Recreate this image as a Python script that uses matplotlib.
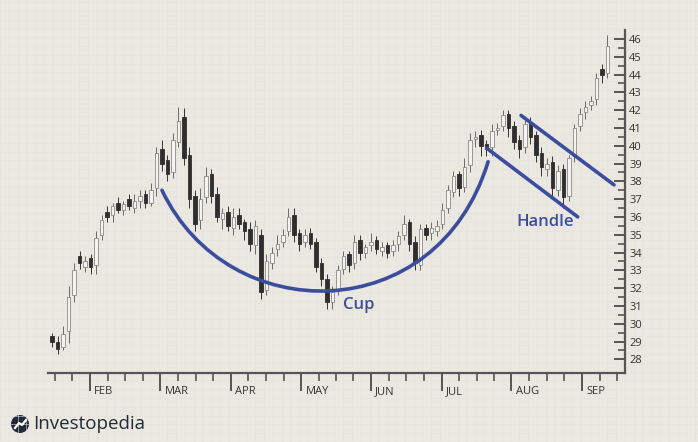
import matplotlib
matplotlib.use("Agg")
import matplotlib.pyplot as plt
import matplotlib.transforms as mtrans
from matplotlib.path import Path
from matplotlib.patches import PathPatch, Rectangle, Circle
import numpy as np

closes = [29.0,28.6,29.4,31.5,33.0,33.4,33.5,33.2,34.8,35.8,36.0,36.6,36.4,36.7,36.6,36.9,37.2,36.8,37.5,39.6,
          39.0,38.4,40.3,41.4,39.3,37.0,35.6,37.0,38.3,37.2,36.0,36.2,35.5,36.0,35.6,35.2,34.5,35.5,31.8,33.5,
          34.0,34.5,35.0,36.0,35.0,34.5,35.0,34.5,33.2,32.5,31.2,31.8,33.0,33.8,33.3,34.6,34.0,34.3,34.6,34.2,
          34.3,34.0,34.4,34.9,35.6,34.5,33.4,35.3,35.0,35.4,35.5,36.4,37.5,38.3,37.6,38.8,40.3,40.5,40.0,39.8,
          40.8,41.0,41.7,41.0,40.2,39.8,41.2,40.5,39.5,38.8,39.0,37.6,38.6,37.1,39.3,41.0,41.8,42.2,42.5,43.8,
          44.0,45.6]
opens = [29.3,29.0,28.7,29.6,31.6,33.8,33.2,33.7,33.3,35.0,36.3,36.1,36.8,36.4,37.0,36.5,36.9,37.3,36.8,37.6,
         39.8,39.2,38.5,40.2,41.6,39.5,37.2,35.8,37.1,38.4,37.3,35.9,36.3,35.4,36.1,35.7,35.3,34.4,35.0,31.9,
         33.4,34.2,34.6,35.2,36.1,35.1,34.6,35.1,34.6,33.4,32.5,31.2,31.9,33.1,33.9,33.4,34.7,34.0,34.4,34.7,
         34.1,34.4,34.1,34.5,35.0,35.7,34.6,33.3,35.4,35.1,35.2,35.6,36.5,37.4,38.4,37.7,38.9,40.4,40.6,40.1,
         39.9,40.9,41.1,41.8,41.1,40.3,39.9,41.3,40.6,39.6,38.7,39.1,37.5,38.7,37.2,39.4,41.1,41.9,42.3,42.6,
         44.3,44.1]
wick_up = [0.2,0.3,0.5,0.6,0.4,0.3,0.3,0.2,0.4,0.3,0.3,0.2,0.3,0.2,0.3,0.4,0.3,0.2,0.4,0.3,
           0.5,0.3,0.4,0.8,0.5,0.4,0.3,0.6,0.5,0.3,0.4,0.3,0.3,0.5,0.4,0.2,0.4,0.3,0.3,0.4,
           0.3,0.5,0.3,0.5,0.4,0.2,0.3,0.3,0.2,0.3,0.3,0.3,0.3,0.3,0.2,0.4,0.3,0.2,0.5,0.2,
           0.3,0.2,0.3,0.3,0.5,0.2,0.3,0.3,0.2,0.3,0.3,0.4,0.3,0.3,0.2,0.5,0.4,0.3,0.3,0.2,
           0.4,0.3,0.3,0.2,0.3,0.3,0.4,0.3,0.2,0.3,0.3,0.3,0.3,0.3,0.2,0.2,0.3,0.3,0.3,0.3,
           0.3,0.6]
wick_dn = [0.3,0.3,0.2,0.7,0.4,0.3,0.3,0.4,0.5,0.3,0.3,0.4,0.2,0.3,0.2,0.3,0.4,0.3,0.2,0.4,
           0.4,0.4,0.3,0.3,0.4,0.5,0.4,0.5,0.3,0.4,0.3,0.6,0.3,0.4,0.3,0.5,0.4,0.5,0.4,0.3,
           0.3,0.4,0.3,0.3,0.4,0.4,0.3,0.3,0.3,0.4,0.4,0.4,0.3,0.3,0.4,0.3,0.4,0.3,0.3,0.3,
           0.3,0.3,0.3,0.4,0.3,0.4,0.4,0.3,0.3,0.4,0.3,0.3,0.3,0.3,0.4,0.3,0.4,0.5,0.6,0.4,
           0.5,0.3,0.3,0.5,0.4,0.5,0.3,0.4,0.4,0.5,0.4,0.4,0.3,0.6,0.3,0.3,0.3,0.4,0.3,0.3,
           0.5,0.3]
month_labels = ["FEB","MAR","APR","MAY","JUN","JUL","AUG","SEP"]
month_pos = [6.9,19.7,32.5,45.3,58.0,70.9,83.5,96.4]
y_ticks = list(range(28,47))

BG = "#ebe8e1"
BLUE = "#3a4d9e"
AX = "#555555"

fig = plt.figure(figsize=(6.98,4.42), dpi=100, facecolor=BG)
bg = fig.add_axes([0,0,1,1], zorder=-5)
bg.set_facecolor(BG)
bg.set_xlim(0,698); bg.set_ylim(0,442)
for gx in np.arange(0,698,8.8):
    bg.axvline(gx, color="#e4e1d9", lw=0.4)
for gy in np.arange(0,442,8.8):
    bg.axhline(gy, color="#e4e1d9", lw=0.4)
bg.axis("off")

ax = fig.add_axes([48/698, 1-372.5/442, (625-48)/698, (372.5-30)/442])
ax.patch.set_alpha(0)
ax.set_xlim(-0.73, 104.2)
ax.set_ylim(27.26, 46.5)

w = 0.62
for i,(o,c,u,d) in enumerate(zip(opens,closes,wick_up,wick_dn)):
    hi = max(o,c)+u; lo = min(o,c)-d
    up = c >= o
    ax.vlines(i, lo, hi, color="#6a6a6a" if up else "#333333", lw=0.7, zorder=2)
    ax.add_patch(Rectangle((i-w/2, min(o,c)), w, max(abs(c-o),0.08),
                 facecolor="#f4f3ef" if up else "#2e2e2e",
                 edgecolor="#8a8a8a" if up else "#2e2e2e", lw=0.6, zorder=3))

cup = Path([(20,37.5),(32,29.7),(70,29.7),(79.3,39.1)],
           [Path.MOVETO, Path.CURVE4, Path.CURVE4, Path.CURVE4])
ax.add_patch(PathPatch(cup, facecolor="none", edgecolor=BLUE, lw=2.6, zorder=4, capstyle="round"))
ax.plot([79.1,95.6],[39.85,36.0], color=BLUE, lw=2.6, solid_capstyle="round", zorder=4)
ax.plot([85.3,102.2],[41.7,37.8], color=BLUE, lw=2.6, solid_capstyle="round", zorder=4)
ax.text(53.0, 31.05, "Cup", color=BLUE, fontsize=12, fontweight="semibold", va="center", family="Open Sans")
ax.text(84.5, 35.7, "Handle", color=BLUE, fontsize=12, fontweight="semibold", va="center", family="Open Sans")

for s in ["top","left"]:
    ax.spines[s].set_visible(False)
for s in ["bottom","right"]:
    ax.spines[s].set_color(AX); ax.spines[s].set_linewidth(1.6)

ax.yaxis.tick_right()
ax.set_yticks(y_ticks)
ax.set_yticks([t+0.5 for t in y_ticks[:-1]], minor=True)
ax.set_yticklabels([str(t) for t in y_ticks], fontsize=8, color="#333333", family="Open Sans")
ax.tick_params(axis="y", which="major", direction="in", length=8, width=1.4, color=AX, pad=3)
ax.tick_params(axis="y", which="minor", direction="in", length=5, width=1.2, color=AX)

ax.set_xticks(month_pos)
ax.set_xticklabels([])
minors = []
for k in range(len(month_pos)):
    start = month_pos[k]
    nxt = month_pos[k+1] if k+1 < len(month_pos) else month_pos[k]+12.8
    step = (nxt-start)/4
    minors += [start+step*j for j in (1,2,3)]
minors += [month_pos[0]-12.8/4*j for j in (1,2)]
ax.set_xticks([m for m in minors if m < 104.2], minor=True)
ax.tick_params(axis="x", which="major", direction="out", length=13, width=1.4, color=AX)
ax.tick_params(axis="x", which="minor", direction="out", length=6, width=1.2, color=AX)
tr = mtrans.blended_transform_factory(ax.transData, ax.transAxes)
for p,l in zip(month_pos, month_labels):
    ax.text(p+0.8, -0.04, l, transform=tr, fontsize=8, color="#333333", va="top", ha="left", family="Open Sans")

bg.add_patch(Circle((20,18), 9, facecolor="#1f2b3a", edgecolor="none"))
bg.plot([15,19,22,26],[14,19,17,22], color="white", lw=1.6)
fig.text(33/698, 1-424/442, "Investopedia", fontsize=13.5, color="#1f2b3a", va="center", family="Open Sans")

fig.savefig("out.png", dpi=100, facecolor=BG)
